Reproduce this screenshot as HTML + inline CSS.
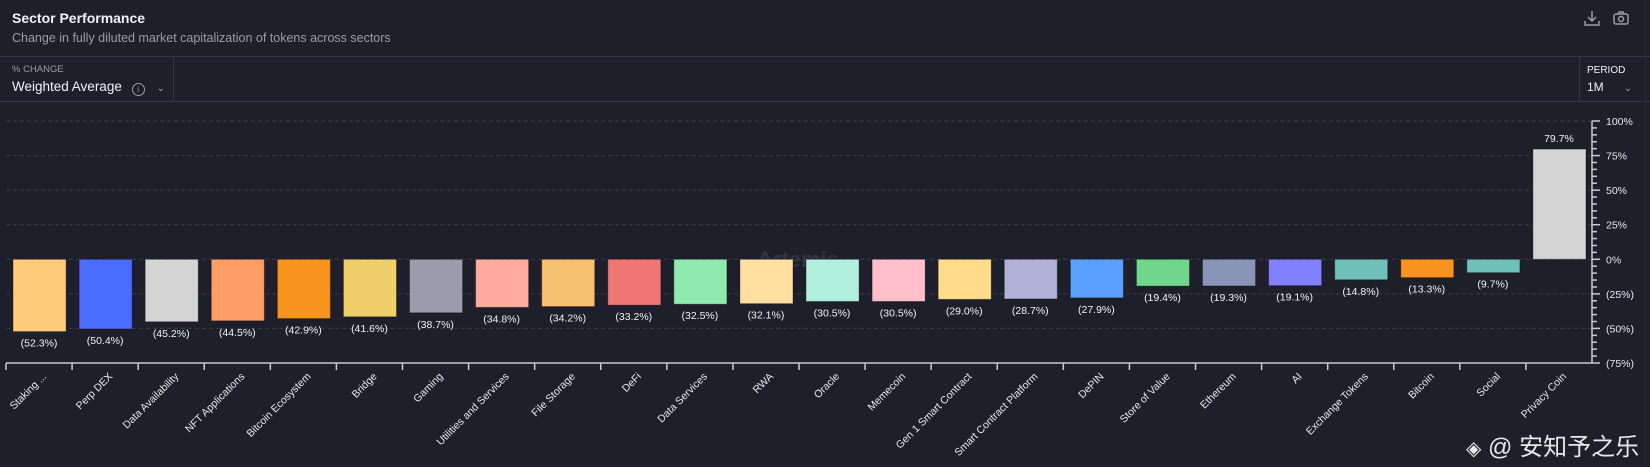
<!DOCTYPE html>
<html><head><meta charset="utf-8"><style>
body{margin:0;width:1650px;height:467px;background:#1e1f2b;font-family:"Liberation Sans",sans-serif;overflow:hidden;position:relative;color:#fff}
.abs{position:absolute}
</style></head><body>
<div class="abs" style="left:12px;top:10px;font-size:14px;font-weight:bold;color:#f2f2f2">Sector Performance</div>
<div class="abs" style="left:12px;top:31px;font-size:12.5px;color:#9a9caa">Change in fully diluted market capitalization of tokens across sectors</div>
<svg class="abs" style="left:1583px;top:9px" width="18" height="18" viewBox="0 0 18 18"><path d="M9 2v10M5 8l4 4 4-4M2 12v4h14v-4" stroke="#9a9caa" stroke-width="1.5" fill="none"/></svg>
<svg class="abs" style="left:1612px;top:9px" width="18" height="18" viewBox="0 0 18 18"><rect x="2" y="5" width="14" height="10" rx="2" stroke="#9a9caa" stroke-width="1.5" fill="none"/><path d="M6 5l1-2h4l1 2" stroke="#9a9caa" stroke-width="1.5" fill="none"/><circle cx="9" cy="10" r="2.5" stroke="#9a9caa" stroke-width="1.5" fill="none"/></svg>
<div class="abs" style="left:0;top:56px;width:1650px;height:1px;background:#33354a"></div>
<div class="abs" style="left:0;top:101px;width:1650px;height:1px;background:#33354a"></div>
<div class="abs" style="left:173px;top:56px;width:1px;height:45px;background:#33354a"></div>
<div class="abs" style="left:1579px;top:56px;width:1px;height:45px;background:#33354a"></div>
<div class="abs" style="left:1645px;top:0;width:1px;height:467px;background:#2a2c3c"></div>
<div class="abs" style="left:12px;top:64px;font-size:9.5px;color:#9a9caa">% CHANGE</div>
<div class="abs" style="left:12px;top:79px;font-size:13.5px;color:#f2f2f2">Weighted Average <span style="display:inline-block;width:11px;height:11px;border:1px solid #9a9caa;border-radius:50%;font-size:8px;text-align:center;line-height:11px;color:#9a9caa;margin-left:6px;vertical-align:-1px">i</span><span style="color:#9a9caa;margin-left:12px;font-size:10px">&#8964;</span></div>
<div class="abs" style="left:1587px;top:65px;font-size:10px;color:#f2f2f2">PERIOD</div>
<div class="abs" style="left:1587px;top:80px;font-size:12px;color:#f2f2f2">1M<span style="color:#9a9caa;margin-left:20px;font-size:10px">&#8964;</span></div>
<svg class="abs" id="chart" style="left:0;top:0" width="1650" height="467"></svg>
<div class="abs" style="left:1466px;top:427px;font-size:24px;color:#e8e8e8;font-family:'Liberation Sans','Noto Sans CJK SC',sans-serif"><span style="font-size:20px">◈</span> @ 安知予之乐</div>
<script>
const categories=["Staking ...","Perp DEX","Data Availability","NFT Applications","Bitcoin Ecosystem","Bridge","Gaming","Utilities and Services","File Storage","DeFi","Data Services","RWA","Oracle","Memecoin","Gen 1 Smart Contract","Smart Contract Platform","DePIN","Store of Value","Ethereum","AI","Exchange Tokens","Bitcoin","Social","Privacy Coin"];
const values=[-52.3,-50.4,-45.2,-44.5,-42.9,-41.6,-38.7,-34.8,-34.2,-33.2,-32.5,-32.1,-30.5,-30.5,-29.0,-28.7,-27.9,-19.4,-19.3,-19.1,-14.8,-13.3,-9.7,79.7];
const colors=["#fdcb7a","#4a6cff","#d4d4d4","#fe9d66","#f7931e","#efcf6a","#9b9bab","#ffaba0","#f5c070","#f07575","#8eeaae","#ffe0a0","#b2f0de","#ffc0cc","#ffdc8a","#b0b0d8","#5ca0ff","#6fd68b","#8a94b8","#8080ff","#6ec1b8","#f7931e","#6ec1b8","#d4d4d4"];
const yTicks=[100,75,50,25,0,-25,-50,-75];
const NS="http://www.w3.org/2000/svg",svg=document.getElementById('chart');
const x0=6,x1=1592,yMin=-75,yMax=100,yTop=121,yBot=363;
const slot=(x1-x0)/categories.length;
const y=v=>yBot-(v-yMin)/(yMax-yMin)*(yBot-yTop);
function mk(t,a){const e=document.createElementNS(NS,t);for(const k in a)e.setAttribute(k,a[k]);svg.appendChild(e);return e;}
yTicks.forEach(t=>{
 if(t>yMin){const g=mk('line',{x1:x0,x2:x1,y1:y(t),y2:y(t),stroke:'#3a3c4c','stroke-dasharray':'4,3'});
 
 }
 const l=mk('text',{x:x1+14,y:y(t)+4,fill:'#e8e8e8','font-size':10.5});l.textContent=t<0?'('+(-t)+'%)':t+'%';
 
 
});
for(let v=yMin;v<=yMax;v+=5){const tk=mk('line',{x1:x1,x2:x1+(v%25==0?8:5),y1:y(v),y2:y(v),stroke:'#ccc','stroke-width':1.5});
 
 }
const ya=mk('line',{x1:x1,x2:x1,y1:yTop,y2:yBot,stroke:'#ccc','stroke-width':1.5});


const xa=mk('line',{x1:x0,x2:x1,y1:yBot,y2:yBot,stroke:'#ccc','stroke-width':1.5});


const wm=mk('text',{x:757,y:267,fill:'#33343f','font-size':22,'font-weight':'bold'});wm.textContent='Artemis';


categories.forEach((c,i)=>{
 const sx=x0+i*slot,v=values[i];
 const tk=mk('line',{x1:sx,x2:sx,y1:yBot,y2:yBot+7,stroke:'#ccc','stroke-width':1.5});
 
 
 const top=Math.min(y(v),y(0)),h=Math.abs(y(v)-y(0));
 const b=mk('rect',{x:sx+7,y:top,width:slot-13,height:h,fill:colors[i],stroke:'rgba(0,0,0,0.35)'});
 
 
 const vl=mk('text',{x:sx+slot/2,y:v<0?y(v)+15:y(v)-7,fill:'#f2f2f2','font-size':10.5,'text-anchor':'middle'});
 vl.textContent=v<0?'('+(-v).toFixed(1)+'%)':v.toFixed(1)+'%';
 
 
 const cx=sx+slot/2+8,cy=yBot+14;
 const l=mk('text',{x:cx,y:cy,fill:'#e8e8e8','font-size':10.5,'text-anchor':'end',transform:`rotate(-45 ${cx} ${cy})`});
 l.textContent=c;
 
 
});
</script>
</body></html>
